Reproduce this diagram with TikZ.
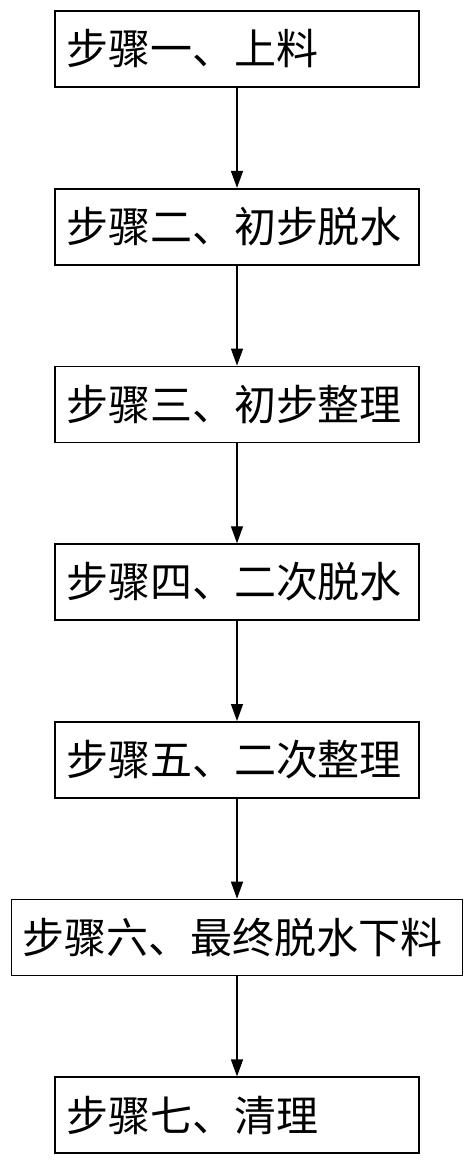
\documentclass[tikz,border=0pt]{standalone}
\usepackage{fontspec}
\setmainfont{Noto Sans CJK SC}
\usepackage{tikz}
\usetikzlibrary{arrows.meta,positioning}
\tikzset{
    stepbox/.style={
    rectangle,draw=black,line width=1.6pt,minimum height=76pt,
    text width=342pt,inner xsep=11pt,align=left,
    font=\fontsize{42}{42}\selectfont
    },
    widebox/.style={
    stepbox,text width=429pt
    },
    flow/.style={
    line width=1.3pt,-{Triangle[length=17pt,width=12pt]}
    },
}
\begin{document}
\begin{tikzpicture}[node distance=177.7pt, on grid]
   \useasboundingbox (0,0) rectangle (474pt,-1165pt);
   \node[stepbox] (load) at (237pt,-49pt) {步骤一、上料};
   \node[stepbox] (dry1) [below=of load] {步骤二、初步脱水};
   \node[stepbox] (sort1) [below=of dry1] {步骤三、初步整理};
   \node[stepbox] (dry2) [below=of sort1] {步骤四、二次脱水};
   \node[stepbox] (sort2) [below=of dry2] {步骤五、二次整理};
   \node[widebox] (unload) [below=of sort2] {步骤六、最终脱水下料};
   \node[stepbox] (clean) [below=of unload] {步骤七、清理};

  \path[flow]
             (load)   edge (dry1)
             (dry1)   edge (sort1)
             (sort1)  edge (dry2)
             (dry2)   edge (sort2)
             (sort2)  edge (unload)
             (unload) edge (clean);
\end{tikzpicture}
\end{document}
